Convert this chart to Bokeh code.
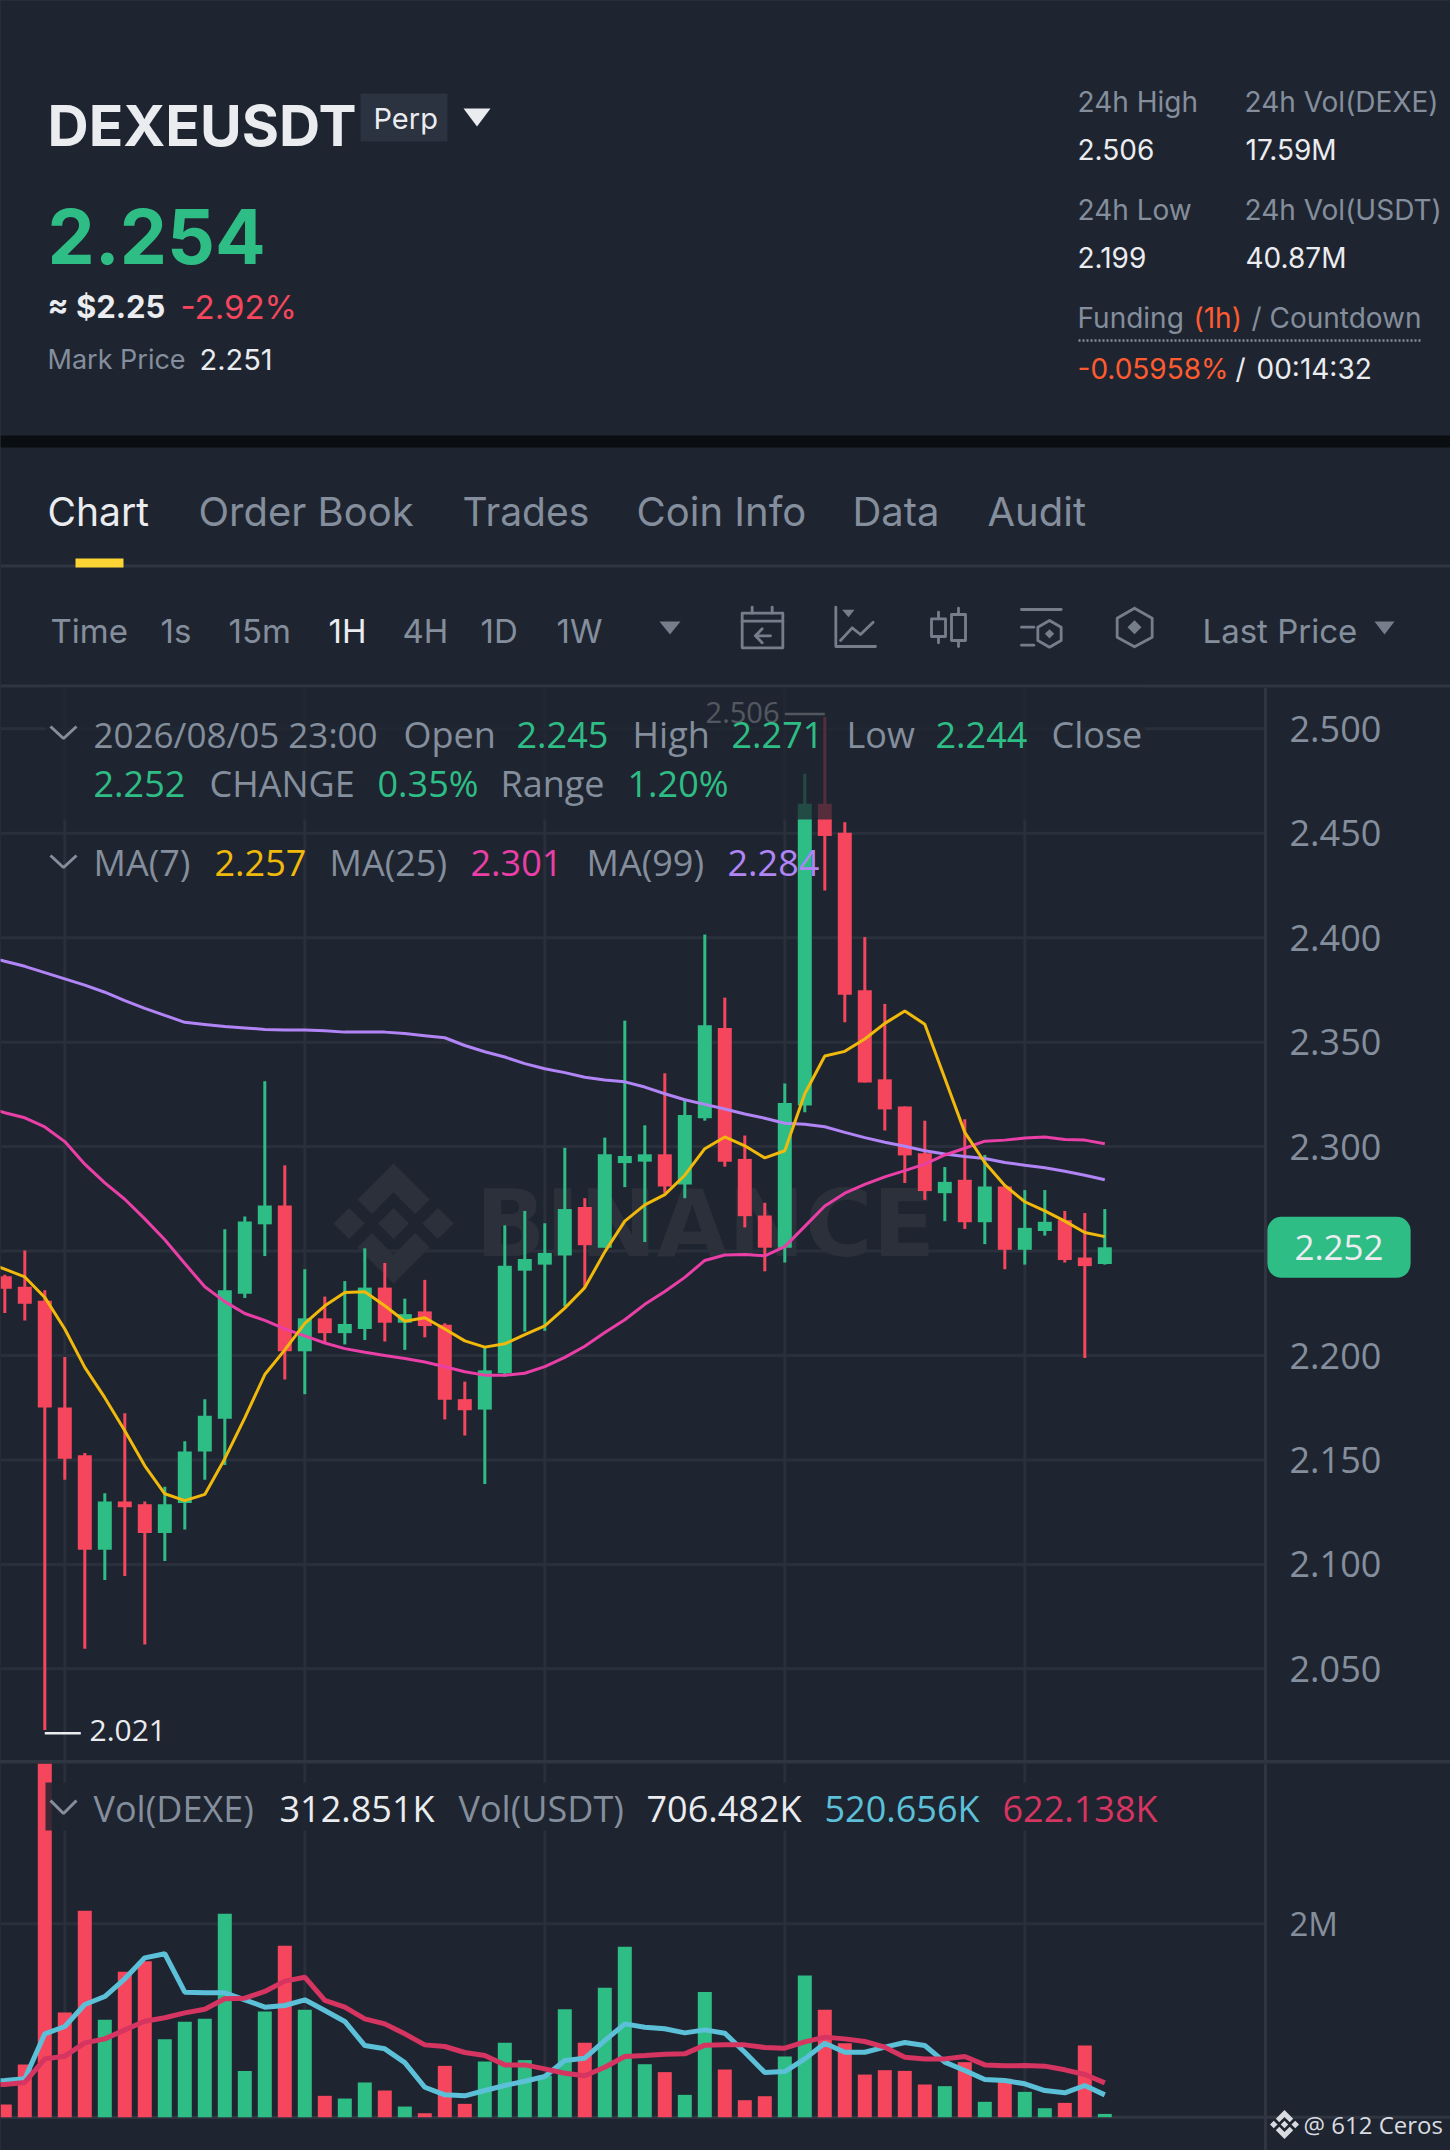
from bokeh.plotting import figure
from bokeh.layouts import column
from bokeh.models import Range1d, FixedTicker, LinearAxis, NumeralTickFormatter, BoxAnnotation, Label
from bokeh.core.properties import value
from bokeh.embed import file_html
from bokeh.resources import INLINE

# ---------- data ----------
opens = [2.2379,2.2329,2.2262,2.1751,2.1523,2.1070,2.1301,2.1288,2.1150,2.1294,2.1540,2.1697,2.2295,2.2628,2.2718,2.2020,2.2178,2.2107,2.2127,2.2325,2.2157,2.2211,2.2147,2.1791,2.1741,
         2.1915,2.2406,2.2435,2.2479,2.2711,2.2516,2.2921,2.2928,2.2963,2.2819,2.3136,2.3568,2.2941,2.2670,2.2516,2.3197,2.4641,2.4502,2.3749,2.3322,2.3192,2.2968,2.2777,2.2841,2.2638,2.2809,2.2506,2.2596,2.2648,2.2469,2.2438]
highs = [2.2386,2.2503,2.2312,2.1993,2.1533,2.1341,2.1724,2.1301,2.1372,2.1590,2.1791,2.2604,2.2665,2.3313,2.2910,2.2413,2.2282,2.2356,2.2513,2.2443,2.2272,2.2362,2.2154,2.1875,2.2040,
         2.2623,2.2692,2.2633,2.2994,2.2753,2.3043,2.3603,2.3102,2.3351,2.3229,2.4015,2.3713,2.3053,2.2731,2.3302,2.4785,2.5056,2.4553,2.4003,2.3683,2.3192,2.3124,2.2902,2.3131,2.2960,2.2814,2.2792,2.2792,2.2692,2.2682,2.2701]
lows  = [2.2204,2.2168,2.0207,2.1405,2.0596,2.0925,2.0945,2.0616,2.1016,2.1167,2.1405,2.1476,2.2275,2.2476,2.1885,2.1815,2.2060,2.2053,2.2074,2.2067,2.2027,2.2087,2.1694,2.1617,2.1385,
         2.1898,2.2115,2.2118,2.2235,2.2325,2.2516,2.2806,2.2543,2.2777,2.2753,2.3124,2.2904,2.2613,2.2403,2.2445,2.3165,2.4226,2.3595,2.3307,2.3077,2.2826,2.2745,2.2643,2.2606,2.2533,2.2413,2.2435,2.2574,2.2445,2.1988,2.2435]
closes= [2.2319,2.2248,2.1751,2.1506,2.1070,2.1301,2.1274,2.1150,2.1288,2.1540,2.1711,2.2312,2.2641,2.2718,2.2020,2.2178,2.2107,2.2151,2.2325,2.2157,2.2198,2.2141,2.1788,2.1738,2.1929,
         2.2430,2.2462,2.2491,2.2701,2.2528,2.2963,2.2955,2.2963,2.2809,2.3151,2.3581,2.2928,2.2667,2.2516,2.3209,2.4641,2.4487,2.3727,2.3307,2.3178,2.2958,2.2787,2.2831,2.2638,2.2809,2.2506,2.2611,2.2640,2.2457,2.2428,2.2518]
ma7 = [2.2450,2.2413,2.2376,2.2278,2.2127,2.1943,2.1798,2.1640,2.1472,2.1338,2.1305,2.1335,2.1506,2.1701,2.1909,2.2027,2.2154,2.2238,2.2302,2.2305,2.2238,2.2164,2.2181,2.2127,2.2070,2.2040,
       2.2056,2.2100,2.2142,2.2227,2.2325,2.2496,2.2643,2.2721,2.2770,2.2863,2.2990,2.3046,2.3004,2.2946,2.2980,2.3253,2.3434,2.3456,2.3515,2.3590,2.3649,2.3586,2.3327,2.3068,2.2924,2.2814,2.2736,2.2692,2.2643,2.2589,2.2569]
ma25 = [2.3192,2.3162,2.3138,2.3094,2.3024,2.2916,2.2826,2.2748,2.2654,2.2554,2.2440,2.2329,2.2258,2.2201,2.2168,2.2127,2.2094,2.2060,2.2033,2.2016,2.2000,2.1986,2.1969,2.1946,2.1922,2.1906,
        2.1905,2.1915,2.1947,2.1991,2.2044,2.2110,2.2171,2.2245,2.2306,2.2374,2.2455,2.2481,2.2484,2.2477,2.2521,2.2618,2.2716,2.2777,2.2819,2.2855,2.2885,2.2916,2.2960,2.2992,2.3026,2.3031,2.3041,2.3046,2.3034,2.3031,2.3014]
ma99 = [2.3914,2.3887,2.3863,2.3833,2.3803,2.3773,2.3739,2.3699,2.3662,2.3628,2.3595,2.3585,2.3575,2.3568,2.3561,2.3558,2.3558,2.3554,2.3548,2.3548,2.3548,2.3541,2.3531,2.3521,2.3484,2.3454,
        2.3429,2.3397,2.3373,2.3354,2.3332,2.3319,2.3310,2.3285,2.3253,2.3224,2.3202,2.3180,2.3156,2.3136,2.3112,2.3107,2.3095,2.3068,2.3043,2.3021,2.3002,2.2980,2.2965,2.2953,2.2943,2.2924,2.2911,2.2899,2.2882,2.2863,2.2841]
volumes = [0.131,0.545,3.70,1.083,2.134,1.007,1.503,1.614,0.807,0.986,1.017,2.103,0.479,1.093,1.772,1.110,0.221,0.193,0.359,0.276,0.110,0.041,0.531,0.138,0.576,
           0.769,0.590,0.431,1.117,0.769,1.338,1.762,0.548,0.466,0.231,1.296,0.493,0.176,0.217,0.628,1.465,1.110,0.765,0.441,0.486,0.479,0.338,0.321,0.569,0.159,0.397,0.262,0.093,0.148,0.741,0.034]
vol_ma_a = [0.372,0.379,0.397,0.862,0.938,1.165,1.248,1.431,1.648,1.690,1.293,1.286,1.286,1.214,1.138,1.155,1.214,1.103,0.990,0.741,0.707,0.565,0.310,0.231,0.221,0.276,
            0.328,0.372,0.421,0.586,0.610,0.793,0.965,0.931,0.914,0.872,0.903,0.869,0.672,0.462,0.472,0.603,0.765,0.672,0.672,0.724,0.772,0.741,0.569,0.483,0.390,0.379,0.345,0.276,0.252,0.328,0.231]
vol_ma_b = [0.334,0.338,0.359,0.603,0.631,0.769,0.810,0.903,0.993,1.028,1.079,1.117,1.224,1.231,1.300,1.407,1.448,1.207,1.138,1.017,0.965,0.862,0.748,0.731,0.669,0.638,
            0.541,0.541,0.500,0.455,0.428,0.517,0.628,0.638,0.652,0.655,0.745,0.748,0.748,0.721,0.714,0.779,0.828,0.810,0.783,0.724,0.621,0.603,0.603,0.628,0.541,0.531,0.534,0.528,0.490,0.441,0.355]
price_ticks = [2.05,2.10,2.15,2.20,2.25,2.30,2.35,2.40,2.45,2.50]
vol_ticks = [2]

n = len(opens)
idx = list(range(n))
idx_ma = list(range(-1, n))
assert all(len(a) == n for a in (highs, lows, closes, volumes))
assert all(len(a) == n + 1 for a in (ma7, ma25, ma99, vol_ma_a, vol_ma_b))

# ---------- style ----------
BG = "#1f2530"
GRID = "#2a303b"
SEP = "#2f3541"
GREEN = "#2ebd85"
RED = "#f6465d"
GREY = "#848e9c"
WHITE = "#eaecef"
ICON = "#767e8c"
ORANGE = "#ff5b30"
YEL = "#f0b90b"
PINK = "#e93fa7"
PUR = "#b185f6"
VBLUE = "#5bc0d8"
VRED = "#d63461"
UI = "Inter"
CH = "Open Sans"
colors = [GREEN if c >= o else RED for o, c in zip(opens, closes)]

FRAME_R = 1265

def base(w, h, xr, yr):
    f = figure(width=w, height=h, x_range=xr, y_range=yr, toolbar_location=None, output_backend="svg",
               background_fill_color=BG, border_fill_color=BG, outline_line_color=None, frame_align=False,
               min_border=0, min_border_left=0, min_border_right=0, min_border_top=0, min_border_bottom=0)
    return f

def put(f, x, y, txt, color, size, font=UI, style="normal", align="left", level="overlay"):
    f.text([x], [y], text=[txt], text_color=color, text_font=value(font), text_font_size=f"{size}px",
           text_font_style=style, text_align=align, text_baseline="middle", level=level)

# ---------- header ----------
h = base(1450, 687, Range1d(0, 1450), Range1d(687, 0))
h.axis.visible = False
h.grid.visible = False
h.quad(left=[0], right=[1450], top=[435], bottom=[447], fill_color="#0b0e11", line_color=None)
h.quad(left=[0], right=[1450], top=[564], bottom=[567], fill_color=SEP, line_color=None)
h.quad(left=[0], right=[1450], top=[684], bottom=[687], fill_color=SEP, line_color=None)
h.quad(left=[75], right=[123], top=[558], bottom=[567], fill_color="#fcd535", line_color=None)
put(h, 47, 125, "DEXEUSDT", WHITE, 57, style="bold")
h.quad(left=[360], right=[447], top=[93], bottom=[141], fill_color="#2b3240", line_color=None)
put(h, 373, 118, "Perp", WHITE, 29)
h.patch([463, 490, 476.5], [108, 108, 126], fill_color=WHITE, line_color=None)
put(h, 47, 236, "2.254", GREEN, 75, style="bold")
put(h, 47, 306, "≈ $2.25", WHITE, 31, style="bold")
put(h, 180, 306, "-2.92%", RED, 33)
put(h, 47, 359, "Mark Price", GREY, 27)
put(h, 199, 359, "2.251", WHITE, 29)
for x, y, t, c in [(1077, 101, "24h High", GREY), (1244, 101, "24h Vol(DEXE)", GREY),
                   (1077, 149, "2.506", WHITE), (1245, 149, "17.59M", WHITE),
                   (1077, 209, "24h Low", GREY), (1244, 209, "24h Vol(USDT)", GREY),
                   (1077, 257, "2.199", WHITE), (1245, 257, "40.87M", WHITE),
                   (1077, 317, "Funding", GREY), (1193, 317, "(1h)", ORANGE), (1251, 317, "/ Countdown", GREY),
                   (1077, 368, "-0.05958%", ORANGE), (1235, 368, "/", WHITE), (1256, 368, "00:14:32", WHITE)]:
    put(h, x, y, t, c, 28)
h.line([1078, 1422], [340, 340], line_color=GREY, line_width=2.5, line_dash="2 2")
for x, t, c, s in [(47, "Chart", WHITE, 39), (198, "Order Book", GREY, 40), (462, "Trades", GREY, 39),
                   (636, "Coin Info", GREY, 40), (852, "Data", GREY, 40), (987, "Audit", GREY, 40)]:
    put(h, x, 511, t, c, s)
for x, t, c in [(50, "Time", GREY), (160, "1s", GREY), (228, "15m", GREY), (328, "1H", WHITE),
                (402, "4H", GREY), (480, "1D", GREY), (556, "1W", GREY), (1202, "Last Price", GREY)]:
    put(h, x, 630, t, c, 33)
h.patch([659, 680, 669.5], [621, 621, 634], fill_color=ICON, line_color=None)
h.patch([1374, 1394, 1384], [621, 621, 634], fill_color=ICON, line_color=None)

# toolbar icons, outlined in a 3x crop's units
def ix(v): return 720 + v / 3
def iy(v): return 590 + v / 3
strokes = [
    [(65,68),(187,68),(187,172),(65,172),(65,68)], [(65,92),(187,92)], [(95,50),(95,68)], [(155,50),(155,68)],
    [(150,136),(105,136)], [(125,115),(105,136),(125,157)],
    [(346,50),(346,168),(465,168)], [(360,150),(395,112),(420,132),(458,95)],
    [(633,85),(675,85),(675,138),(633,138),(633,85)], [(654,65),(654,85)], [(654,138),(654,157)],
    [(693,72),(735,72),(735,150),(693,150),(693,72)], [(714,53),(714,72)], [(714,150),(714,168)],
    [(903,57),(1022,57)], [(903,110),(940,110)], [(903,164),(940,164)],
    [(987,90),(1022,110),(1022,150),(987,170),(952,150),(952,110),(987,90)],
    [(1242,53),(1295,83),(1295,140),(1242,169),(1190,140),(1190,83),(1242,53)],
]
h.multi_line([[ix(a) for a, _ in s] for s in strokes], [[iy(b) for _, b in s] for s in strokes],
             line_color=ICON, line_width=2.8, line_cap="round", line_join="round")
fills = [[(365,58),(402,58),(384,80)], [(987,116),(1001,130),(987,144),(973,130)], [(1242,89),(1263,110),(1242,131),(1221,110)]]
h.patches([[ix(a) for a, _ in s] for s in fills], [[iy(b) for _, b in s] for s in fills], fill_color=ICON, line_color=None)

# ---------- shared x mapping ----------
def dx(px): return (px - 4.3) / 20
xr_start, xr_end = dx(0), dx(1450)
x_edge = dx(FRAME_R)
v_ticks = [3, 15, 27, 39, 51]

def logo(f, cx, cy, r, conv_x, conv_y, color, level="underlay"):
    top = [(0,-1),(.6,-.4),(.36,-.16),(0,-.52),(-.36,-.16),(-.6,-.4)]
    bot = [(a, -b) for a, b in top]
    dia = lambda c: [(c-.26,0),(c,-.26),(c+.26,0),(c,.26)]
    shapes = [top, bot, dia(0), dia(-.74), dia(.74)]
    f.patches([[conv_x(cx + a * r) for a, _ in s] for s in shapes],
              [[conv_y(cy + b * r) for _, b in s] for s in shapes],
              fill_color=color, line_color=None, level=level)

# ---------- price chart ----------
P_TOP, P_BOT = 687, 1760
def py(px): return 2.5 - (px - 728.3) / 2089
p = base(1450, P_BOT - P_TOP, Range1d(xr_start, xr_end), Range1d(py(P_BOT), py(P_TOP)))
p.xaxis.visible = False
p.yaxis.visible = False
p.grid.visible = False
ax = LinearAxis(ticker=FixedTicker(ticks=price_ticks), formatter=NumeralTickFormatter(format="0.000"),
                fixed_location=x_edge,
                axis_line_color=SEP, axis_line_width=3, major_tick_line_color=None, minor_tick_line_color=None,
                major_label_text_color=GREY, major_label_text_font=CH, major_label_text_font_size="36px",
                major_label_standoff=18)
p.add_layout(ax, "right")
p.segment(v_ticks, [py(P_BOT)] * len(v_ticks), v_ticks, [py(P_TOP)] * len(v_ticks), line_color=GRID, line_width=3, level="underlay")
p.segment([xr_start] * len(price_ticks), price_ticks, [x_edge] * len(price_ticks), price_ticks, line_color=GRID, line_width=3, level="underlay")

logo(p, 393, 1223, 60, dx, py, "#2b303b")
p.text([dx(475)], [py(1224)], text=["BINANCE"], text_color="#2b303b", text_font=value("DejaVu Sans"),
       text_font_style="bold", text_font_size="92px", text_baseline="middle", level="underlay")

p.segment(idx, lows, idx, highs, line_color=colors, line_width=3)
p.vbar(x=idx, bottom=[min(o, c) for o, c in zip(opens, closes)], top=[max(o, c) for o, c in zip(opens, closes)],
       width=0.7, fill_color=colors, line_color=None)
p.line(idx_ma, ma99, line_color=PUR, line_width=3)
p.line(idx_ma, ma25, line_color=PINK, line_width=3)
p.line(idx_ma, ma7, line_color=YEL, line_width=3)

# extreme markers
hi_i = highs.index(max(highs))
lo_i = lows.index(min(lows))
p.line([hi_i - 2, hi_i], [max(highs) + 0.0015] * 2, line_color=WHITE, line_width=2.5)
put(p, dx(779), max(highs) + 0.002, "2.506", WHITE, 29, font=CH, align="right", level="glyph")
p.line([lo_i, lo_i + 1.8], [min(lows) - 0.0015] * 2, line_color=WHITE, line_width=2.5)
put(p, dx(89), min(lows), "2.021", WHITE, 30, font=CH, level="glyph")

# dimmed strip behind the OHLC legend
p.add_layout(BoxAnnotation(left=dx(45), right=dx(1145), top=py(P_TOP), bottom=py(819),
                           fill_color=BG, fill_alpha=0.75, line_color=None, level="annotation"))

def chevron(f, x0, x1, y0, y1, conv_y, color=GREY):
    f.line([dx(x0), dx((x0 + x1) / 2), dx(x1)], [conv_y(y0), conv_y(y1), conv_y(y0)],
           line_color=color, line_width=3, level="overlay")

LG = 36
chevron(p, 50, 76, 726, 738, py)
chevron(p, 50, 76, 855, 867, py)
for x, y, t, c in [(93, 734, "2026/08/05 23:00", GREY), (403, 734, "Open", GREY), (516, 734, "2.245", GREEN),
                   (632, 734, "High", GREY), (731, 734, "2.271", GREEN), (846, 734, "Low", GREY),
                   (935, 734, "2.244", GREEN), (1051, 734, "Close", GREY),
                   (93, 783, "2.252", GREEN), (209, 783, "CHANGE", GREY), (377, 783, "0.35%", GREEN),
                   (500, 783, "Range", GREY), (627, 783, "1.20%", GREEN),
                   (93, 862, "MA(7)", GREY), (214, 862, "2.257", YEL), (329, 862, "MA(25)", GREY),
                   (470, 862, "2.301", PINK), (586, 862, "MA(99)", GREY), (727, 862, "2.284", PUR)]:
    put(p, dx(x), py(y), t, c, LG if "/" not in t else 35, font=CH)

p.add_layout(Label(x=dx(1338.5), y=closes[-1], text="2.252", text_color=WHITE,
                   text_font=CH, text_font_size="35px", text_align="center", text_baseline="middle",
                   background_fill_color=GREEN, border_radius=14, padding=(27, 27, 18, 18)))

# ---------- volume ----------
V_TOP, V_BOT = 1763, 2150
def vy(px): return (2116.7 - px) / 96.7
v = base(1450, V_BOT - V_TOP, Range1d(xr_start, xr_end), Range1d(vy(V_BOT), vy(V_TOP)))
v.xaxis.visible = False
v.yaxis.visible = False
v.grid.visible = False
vax = LinearAxis(ticker=FixedTicker(ticks=vol_ticks), fixed_location=x_edge, axis_line_color=SEP, axis_line_width=3,
                 major_tick_line_color=None, minor_tick_line_color=None,
                 major_label_overrides={2: "2M"}, major_label_text_color=GREY, major_label_text_font=CH,
                 major_label_text_font_size="33px", major_label_standoff=18)
v.add_layout(vax, "right")
v.segment([xr_start] * len(vol_ticks), vol_ticks, [x_edge] * len(vol_ticks), vol_ticks, line_color=GRID, line_width=3, level="underlay")
v.segment(v_ticks, [0] * len(v_ticks), v_ticks, [vy(V_TOP)] * len(v_ticks), line_color=GRID, line_width=3, level="underlay")
v.line([xr_start, xr_end], [0, 0], line_color=SEP, line_width=3, level="underlay")
v.vbar(x=idx, top=volumes, bottom=0, width=0.7, fill_color=colors, line_color=None)
v.line(idx_ma, vol_ma_a, line_color=VBLUE, line_width=5)
v.line(idx_ma, vol_ma_b, line_color=VRED, line_width=5)
v.add_layout(BoxAnnotation(left=dx(45), right=dx(1145), top=vy(1782), bottom=vy(1830),
                           fill_color=BG, fill_alpha=0.85, line_color=None, level="annotation"))
chevron(v, 50, 76, 1800, 1813, vy)
for x, t, c in [(93, "Vol(DEXE)", GREY), (279, "312.851K", WHITE), (458, "Vol(USDT)", GREY),
                (646, "706.482K", WHITE), (824, "520.656K", VBLUE), (1002, "622.138K", VRED)]:
    put(v, dx(x), vy(1808), t, c, LG, font=CH)

logo(v, 1284, 2124, 14.5, dx, vy, "#d8dce0", level="overlay")
put(v, dx(1303), vy(2124), "@ 612 Ceros", "#d8dce0", 24, font=CH)

chart = column(h, p, spacing=0, width=1450)
page = column(chart, v, spacing=3, width=1450, styles={"background-color": SEP})
open("out.html", "w").write(file_html(page, INLINE))
